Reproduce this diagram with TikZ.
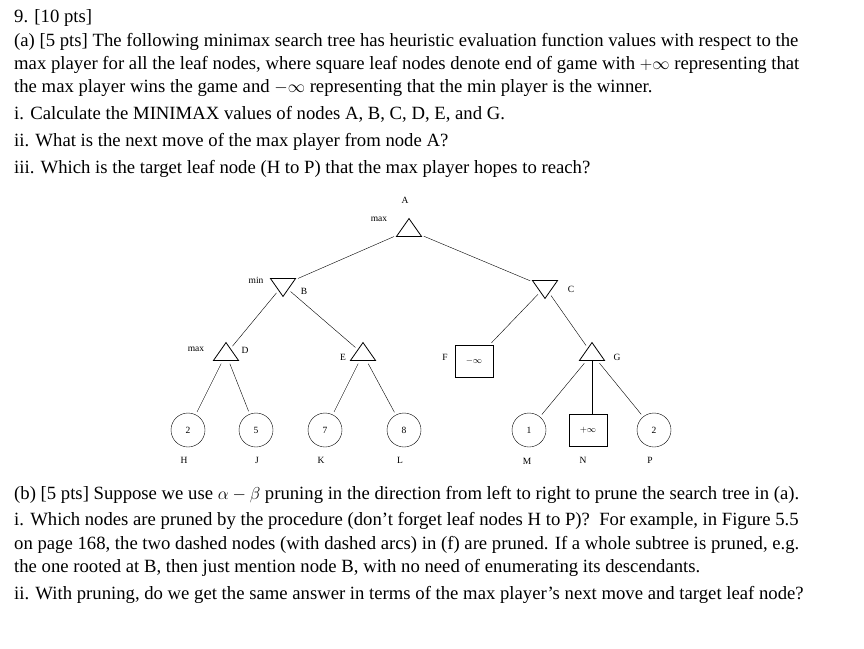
\documentclass[tikz,border=0pt]{standalone}
\usepackage{fontspec}
\setmainfont{Liberation Serif}
\usetikzlibrary{shapes.geometric}
\begin{document}
\begin{tikzpicture}[x=1pt,y=-1pt,
  txt/.style={anchor=base west,inner sep=0,font=\fontsize{18.7}{21}\selectfont},
  lbl/.style={inner sep=0,font=\fontsize{9.5}{10}\selectfont},
  maxn/.style={draw,thick,isosceles triangle,isosceles triangle apex angle=70,shape border rotate=90,minimum width=23,minimum height=18,inner sep=0},
  minn/.style={draw,thick,isosceles triangle,isosceles triangle apex angle=70,shape border rotate=-90,minimum width=23,minimum height=18,inner sep=0},
  leaf/.style={draw,circle,minimum size=34,inner sep=0,font=\fontsize{9.5}{10}\selectfont},
  term/.style={draw,minimum width=38,minimum height=32,inner sep=0,font=\fontsize{9.5}{10}\selectfont},
  edge/.style={shorten <=3,shorten >=3}]
\useasboundingbox (0,0) rectangle (864,648);
\fill[white] (0,0) rectangle (864,648);
\node[txt] (t1) at (14,22) {9. [10 pts]};
\node[txt] (t2) at (14,46) {(a) [5 pts] The following minimax search tree has heuristic evaluation function values with respect to the};
\node[txt] (t3) at (14,69) {max player for all the leaf nodes, where square leaf nodes denote end of game with $+\infty$ representing that};
\node[txt] (t4) at (14,92) {the max player wins the game and $-\infty$ representing that the min player is the winner.};
\node[txt] (t5) at (14,119) {i. Calculate the MINIMAX values of nodes A, B, C, D, E, and G.};
\node[txt] (t6) at (14,146) {ii. What is the next move of the max player from node A?};
\node[txt] (t7) at (14,173) {iii. Which is the target leaf node (H to P) that the max player hopes to reach?};
\node[txt] (b1) at (14,499) {(b) [5 pts] Suppose we use $\alpha-\beta$ pruning in the direction from left to right to prune the search tree in (a).};
\node[txt] (b2) at (14,525) {i. Which nodes are pruned by the procedure (don't forget leaf nodes H to P)?\ \ For example, in Figure 5.5};
\node[txt] (b3) at (14,549) {on page 168, the two dashed nodes (with dashed arcs) in (f) are pruned. If a whole subtree is pruned, e.g.};
\node[txt] (b4) at (14,572) {the one rooted at B, then just mention node B, with no need of enumerating its descendants.};
\node[txt] (b5) at (14,599) {ii. With pruning, do we get the same answer in terms of the max player's next move and target leaf node?};

\node[maxn] (A) at (409,230) {};
\node[minn] (B) at (283,285) {};
\node[minn] (C) at (545,287) {};
\node[maxn] (D) at (226,354) {};
\node[maxn] (E) at (363,354) {};
\node[term] (F) at (474,361) {$-\infty$};
\node[maxn] (G) at (592,354) {};
\node[leaf] (H) at (188,430) {2};
\node[leaf] (J) at (256,430) {5};
\node[leaf] (K) at (325,430) {7};
\node[leaf] (L) at (404,430) {8};
\node[leaf] (M) at (529,430) {1};
\node[term] (N) at (588,430) {$+\infty$};
\node[leaf] (P) at (654,430) {2};

\node[lbl] (lA) at (405,200) {A};
\node[lbl] (lmax1) at (379,219) {max};
\node[lbl] (lmin) at (256,280) {min};
\node[lbl] (lB) at (304,291) {B};
\node[lbl] (lC) at (571,289) {C};
\node[lbl] (lmax2) at (196,349) {max};
\node[lbl] (lD) at (245,350) {D};
\node[lbl] (lE) at (343,357) {E};
\node[lbl] (lF) at (445,357) {F};
\node[lbl] (lG) at (617,357) {G};
\node[lbl] (lH) at (184,460) {H};
\node[lbl] (lJ) at (257,460) {J};
\node[lbl] (lK) at (321,460) {K};
\node[lbl] (lL) at (400,460) {L};
\node[lbl] (lM) at (527,461) {M};
\node[lbl] (lN) at (583,460) {N};
\node[lbl] (lP) at (650,460) {P};

\draw[edge] (A) -- (B);
\draw[edge] (A) -- (C);
\draw[edge] (B) -- (D);
\draw[edge] (B) -- (E);
\draw[edge] (C) -- (F);
\draw[edge] (C) -- (G);
\draw[edge] (D) -- (H);
\draw[edge] (D) -- (J);
\draw[edge] (E) -- (K);
\draw[edge] (E) -- (L);
\draw[edge] (G) -- (M);
\draw (G.south) -- (G.south |- N.north);
\draw[edge] (G) -- (P);
\end{tikzpicture}
\end{document}
